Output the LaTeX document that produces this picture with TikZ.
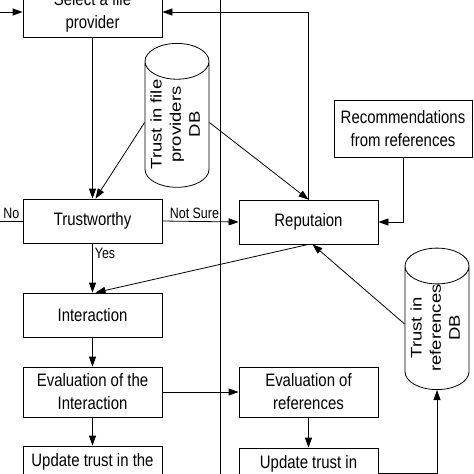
\documentclass[tikz,border=0pt]{standalone}
\usepackage{fontspec}
\setmainfont{Liberation Sans}[FakeStretch=0.83]
\newfontfamily\cylfont{Liberation Sans}
\usepackage{graphicx}
\usetikzlibrary{arrows.meta,shapes.geometric,calc}

\tikzset{
  box/.style={draw, line width=0.8pt, minimum width=139pt, inner sep=0pt, align=center, font=\fontsize{18}{23}\selectfont},
  dbase/.style={draw, line width=0.8pt, shape=cylinder, rotate=90, aspect=0.625, inner sep=0pt},
  lbl/.style={font=\fontsize{15}{18}\selectfont, inner sep=2pt},
  arr/.style={line width=0.8pt, -{Triangle[length=10pt,width=7pt]}},
  plain/.style={line width=0.8pt}
}

\begin{document}
\begin{tikzpicture}[x=1pt,y=1pt,yscale=-1,xscale=1]
\useasboundingbox (0,0) rectangle (474,474);

%Separator
\draw [plain] (220,0) -- (220,474) ;

% Boxes, left column
\node [box, minimum height=50pt] (sel) at (92.5,12) {Select a file\\provider};
\node [box, minimum height=44pt] (trust) at (92.5,221) {Trustworthy};
\node [box, minimum height=44pt] (inter) at (92.5,315) {Interaction};
\node [box, minimum height=50pt] (evint) at (92.5,392) {Evaluation of the\\Interaction};
\node [box, minimum height=50pt] (upd) at (92.5,471) {Update trust in the\\\mbox{}};

% Boxes, right column
\node [box, minimum height=57pt, minimum width=138pt] (rec) at (403,128.5) {Recommendations\\from references};
\node [box, minimum height=44pt] (rep) at (308.5,222) {Reputaion};
\node [box, minimum height=50pt] (evref) at (308.5,392) {Evaluation of\\references};
\node [box, minimum height=50pt] (updref) at (308.5,473) {Update trust in\\\mbox{}};

% Databases
\node [dbase, minimum width=64pt, minimum height=126pt] (cyl1) at (177,124.5) {\scalebox{1}[0.83]{\cylfont\fontsize{18.5}{23}\selectfont\begin{tabular}{@{}c@{}}Trust in file\\providers\\DB\end{tabular}}};
\node [dbase, minimum width=64pt, minimum height=130pt] (cyl2) at (437,328) {\scalebox{1}[0.83]{\cylfont\fontsize{18.5}{23}\selectfont\begin{tabular}{@{}c@{}}Trust in\\references\\DB\end{tabular}}};

% Free ends
\coordinate (inL) at (0,12);
\coordinate (outL) at (0,221);

% Connectors
\draw [arr] (inL) -- (sel.west) ;
\draw [arr] (rep.north) |- (sel.east) ;
\draw [arr] (sel.south) -- (trust.north) ;
\draw [arr] ($(cyl1.north)+(0,-2)$) -- ($(trust.north)+(3,0)$) ;
\draw [arr] ($(cyl1.south)+(0,-2)$) -- (rep.north) ;
\draw [plain] (trust.west) -- node [lbl, above] {No} (outL) ;
\draw [arr] (trust.east) -- node [lbl, above, pos=0.42] {Not Sure} (rep.west) ;
\draw [arr] (rec.south) |- (rep.east) ;
\draw [arr] (trust.south) -- node [lbl, right, pos=0.2] {Yes} (inter.north) ;
\draw [arr] (rep.south) -- ($(inter.north)+(3,0)$) ;
\draw [arr] (inter.south) -- (evint.north) ;
\draw [arr] (evint.south) -- (upd.north) ;
\draw [arr] (evint.east) -- (evref.west) ;
\draw [arr] (evref.south) -- (updref.north) ;
\draw [arr] (updref.east) -| (cyl2.west) ;
\draw [arr] ($(cyl2.north)+(0,-4)$) -- ($(rep.south)+(4,0)$) ;

\end{tikzpicture}
\end{document}
